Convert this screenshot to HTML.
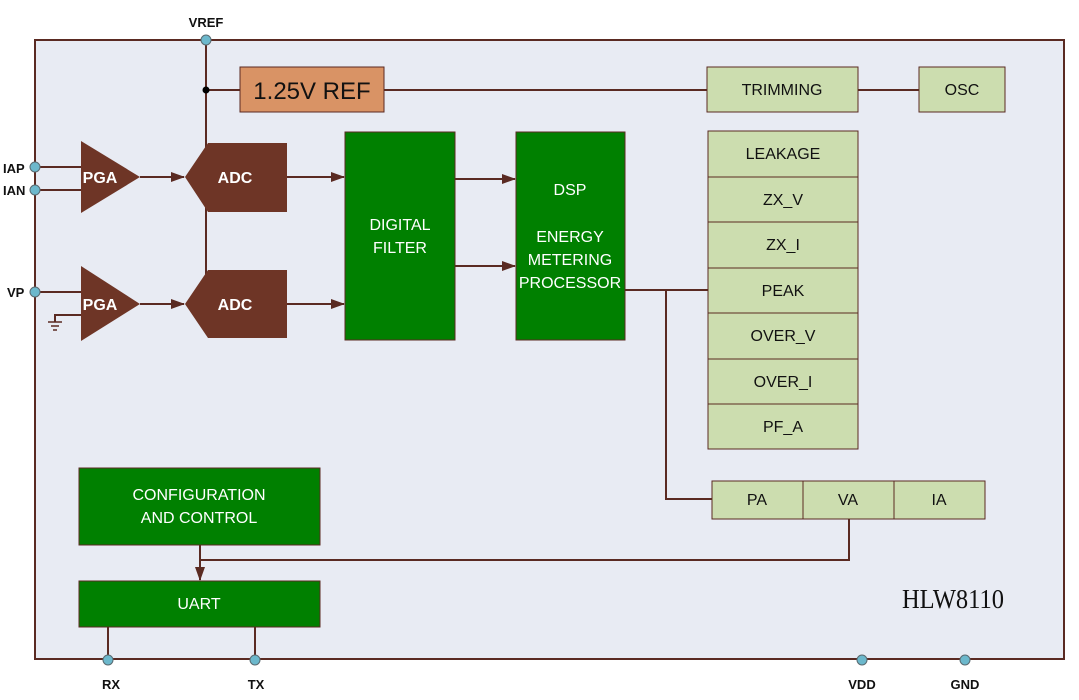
<!DOCTYPE html>
<html><head><style>body{margin:0;background:#fff}svg{display:block}</style></head><body>
<svg width="1079" height="700" viewBox="0 0 1079 700" xmlns="http://www.w3.org/2000/svg" font-family="Liberation Sans, sans-serif">
<defs><marker id="a" markerWidth="14" markerHeight="10" refX="13" refY="5" orient="auto" markerUnits="userSpaceOnUse"><path d="M0,0 L14,5 L0,10 z" fill="#5a2a22"/></marker></defs>
<rect x="35" y="40" width="1029" height="619" fill="#e8ebf3" stroke="#5a2a22" stroke-width="2"/>
<g stroke="#5a2a22" stroke-width="2" fill="none">
<line x1="206" y1="40" x2="206" y2="278"/>
<line x1="206" y1="90" x2="240" y2="90"/>
<line x1="384" y1="90" x2="707" y2="90"/>
<line x1="858" y1="90" x2="919" y2="90"/>
<line x1="35" y1="167" x2="81" y2="167"/><line x1="35" y1="190" x2="81" y2="190"/>
<line x1="35" y1="292" x2="81" y2="292"/>
<polyline points="81,315 55,315 55,322"/>
<line x1="140" y1="177" x2="184" y2="177" marker-end="url(#a)"/>
<line x1="140" y1="304" x2="184" y2="304" marker-end="url(#a)"/>
<line x1="287" y1="177" x2="344" y2="177" marker-end="url(#a)"/>
<line x1="287" y1="304" x2="344" y2="304" marker-end="url(#a)"/>
<line x1="455" y1="179" x2="515" y2="179" marker-end="url(#a)"/>
<line x1="455" y1="266" x2="515" y2="266" marker-end="url(#a)"/>
<line x1="625" y1="290" x2="708" y2="290"/>
<polyline points="666,290 666,499 712,499"/>
<polyline points="849,519 849,560 200,560"/>
<line x1="200" y1="545" x2="200" y2="580" marker-end="url(#a)"/>
<line x1="108" y1="627" x2="108" y2="659"/><line x1="255" y1="627" x2="255" y2="659"/>
</g>
<g stroke="#5a2a22" stroke-width="1.5"><line x1="48" y1="322" x2="62" y2="322"/><line x1="51" y1="326" x2="59" y2="326"/><line x1="53" y1="330" x2="57" y2="330"/></g>
<circle cx="206" cy="90" r="3.5" fill="#000"/>
<rect x="240" y="67" width="144" height="45" fill="#d99365" stroke="#5a2a22"/>
<text x="312" y="99" font-size="24" text-anchor="middle" fill="#111">1.25V REF</text>
<g fill="#ccddaf" stroke="#5a2a22" stroke-width="1">
<rect x="707" y="67" width="151" height="45"/><rect x="919" y="67" width="86" height="45"/>
<rect x="708" y="131" width="150" height="46"/><rect x="708" y="177" width="150" height="45"/><rect x="708" y="222" width="150" height="46"/><rect x="708" y="268" width="150" height="45"/><rect x="708" y="313" width="150" height="46"/><rect x="708" y="359" width="150" height="45"/><rect x="708" y="404" width="150" height="45"/>
<rect x="712" y="481" width="91" height="38"/><rect x="803" y="481" width="91" height="38"/><rect x="894" y="481" width="91" height="38"/>
</g>
<g font-size="16" fill="#111" text-anchor="middle">
<text x="782" y="95">TRIMMING</text><text x="962" y="95">OSC</text>
<text x="783" y="159">LEAKAGE</text><text x="783" y="205">ZX_V</text><text x="783" y="250">ZX_I</text><text x="783" y="296">PEAK</text><text x="783" y="341">OVER_V</text><text x="783" y="387">OVER_I</text><text x="783" y="432">PF_A</text>
<text x="757" y="505">PA</text><text x="848" y="505">VA</text><text x="939" y="505">IA</text>
</g>
<g fill="#6e3526">
<polygon points="81,141 140,177 81,213"/><polygon points="81,266 140,304 81,341"/>
<polygon points="185,177 208,143 287,143 287,212 208,212"/><polygon points="185,304 208,270 287,270 287,338 208,338"/>
</g>
<g fill="#fff" font-size="16" font-weight="bold" text-anchor="middle">
<text x="100" y="183">PGA</text><text x="100" y="310">PGA</text>
<text x="235" y="183">ADC</text><text x="235" y="310">ADC</text>
</g>
<g fill="#008000" stroke="#5a2a22" stroke-width="1">
<rect x="345" y="132" width="110" height="208"/><rect x="516" y="132" width="109" height="208"/>
<rect x="79" y="468" width="241" height="77"/><rect x="79" y="581" width="241" height="46"/>
</g>
<g fill="#fff" font-size="16" text-anchor="middle">
<text x="400" y="230">DIGITAL</text><text x="400" y="253">FILTER</text>
<text x="570" y="195">DSP</text><text x="570" y="242">ENERGY</text><text x="570" y="265">METERING</text><text x="570" y="288">PROCESSOR</text>
<text x="199" y="500">CONFIGURATION</text><text x="199" y="523">AND CONTROL</text>
<text x="199" y="609">UART</text>
</g>
<g fill="#6cb8cc" stroke="#5a6a70" stroke-width="1">
<circle cx="206" cy="40" r="5"/><circle cx="35" cy="167" r="5"/><circle cx="35" cy="190" r="5"/><circle cx="35" cy="292" r="5"/>
<circle cx="108" cy="660" r="5"/><circle cx="255" cy="660" r="5"/><circle cx="862" cy="660" r="5"/><circle cx="965" cy="660" r="5"/>
</g>
<g font-size="13" font-weight="bold" fill="#111">
<text x="206" y="27" text-anchor="middle">VREF</text>
<text x="3" y="173">IAP</text><text x="3" y="195">IAN</text><text x="7" y="297">VP</text>
<text x="111" y="689" text-anchor="middle">RX</text><text x="256" y="689" text-anchor="middle">TX</text>
<text x="862" y="689" text-anchor="middle">VDD</text><text x="965" y="689" text-anchor="middle">GND</text>
</g>
<text x="953" y="608" font-family="Liberation Serif, serif" font-size="27" text-anchor="middle" fill="#111" textLength="102" lengthAdjust="spacingAndGlyphs">HLW8110</text>
</svg>
</body></html>
